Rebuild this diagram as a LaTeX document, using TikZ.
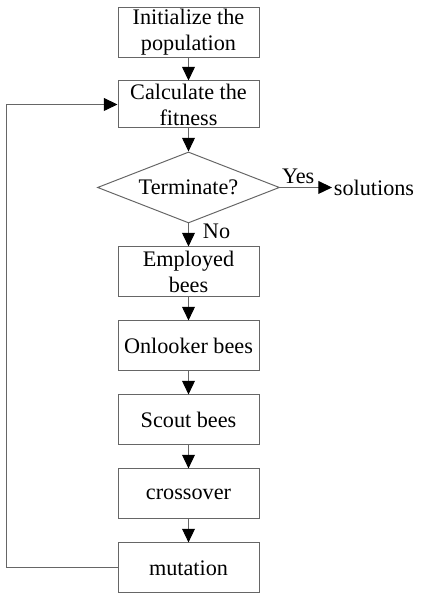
\documentclass[tikz,border=0pt]{standalone}
\usepackage{fontspec}
\setmainfont{Liberation Serif}
\usetikzlibrary{positioning, shapes.geometric, arrows.meta}

\begin{document}
\begin{tikzpicture}[
		>={Triangle[length=0.34cm,width=0.32cm,color=black]},
		font=\fontsize{15.8}{18.5}\selectfont,
		node distance=0.575cm,
		line width=0.7pt,
		block/.style={
			rectangle, draw=black!60,
			minimum width=3.525cm, minimum height=1.25cm, align=center, inner sep=1pt
		},
		decision/.style={
			diamond, draw=black!60, aspect=2.56,
			minimum width=4.55cm, minimum height=1.775cm, inner sep=0pt
		},
		arrow/.style={->, draw=black!60}
		]
		\useasboundingbox (0,0) rectangle (10.55,-15);
		
		% Main column
		\node[block] (init) at (4.7125,-0.8) {Initialize the\\population};
		\node[block, minimum height=1.175cm, below=of init] (fitness) {Calculate the\\fitness};
		\node[decision, below=of fitness] (term) {Terminate?};
		\node[block, below=of term] (employed) {Employed\\bees};
		\node[block, below=of employed] (onlooker) {Onlooker bees};
		\node[block, below=of onlooker] (scout) {Scout bees};
		\node[block, below=of scout] (cross) {crossover};
		\node[block, below=of cross] (mut) {mutation};
		
		% Output
		\node[right=1.3cm of term, inner sep=1pt] (sol) {solutions};
		
		% Forward path
		\draw[arrow] (init) -- (fitness);
		\draw[arrow] (fitness) -- (term);
		\draw[arrow] (term) -- node[right=0.35cm, pos=0.35, inner sep=0pt] {No} (employed);
		\draw[arrow] (employed) -- (onlooker);
		\draw[arrow] (onlooker) -- (scout);
		\draw[arrow] (scout) -- (cross);
		\draw[arrow] (cross) -- (mut);
		\draw[arrow] (term.east) -- node[above, pos=0.35, inner sep=2pt] {Yes} (sol);
		
		% Loop back
		\draw[arrow] (mut.west) -- ++(-2.775,0) |- (fitness.west);
		
\end{tikzpicture}
\end{document}
